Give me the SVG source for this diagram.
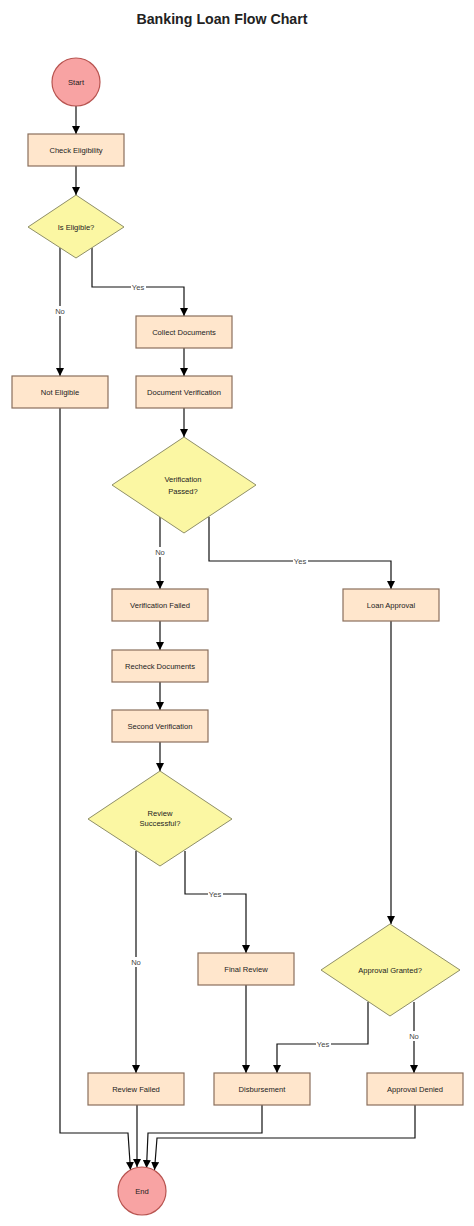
<svg xmlns="http://www.w3.org/2000/svg" width="474" height="1226" viewBox="0 0 474 1226">
<style>
.term{fill:#f8a3a3;stroke:#b85450;stroke-width:1.2}
.proc{fill:#ffe6cc;stroke:#8a6f5c;stroke-width:1.2}
.dec{fill:#fbf7a3;stroke:#8f8f68;stroke-width:1}
.t{font-family:"Liberation Sans",Arial,sans-serif;font-size:7.6px;fill:#222;text-anchor:middle;dominant-baseline:central}
.e{fill:none;stroke:#111;stroke-width:1.2;marker-end:url(#arr)}
.lbl{font-family:"Liberation Sans",Arial,sans-serif;font-size:7.6px;fill:#444;text-anchor:middle;dominant-baseline:central}
.lb{fill:#fff}
</style>
<defs>
<marker id="arr" viewBox="0 0 10 10" refX="10" refY="5" markerWidth="8" markerHeight="8" markerUnits="userSpaceOnUse" orient="auto"><path d="M0,0 L10,5 L0,10 z" fill="#000"/></marker>
</defs>
<rect width="474" height="1226" fill="#fff"/>
<text x="222" y="19" font-family="'Liberation Sans',Arial,sans-serif" font-size="14.2" font-weight="bold" fill="#222" text-anchor="middle" dominant-baseline="central">Banking Loan Flow Chart</text>
<g id="connectors">
<path class="e" d="M76 106 V134"/>
<path class="e" d="M76 166 V195"/>
<path class="e" d="M60 248 V376"/>
<path class="e" d="M92 248 V287 H184 V316"/>
<path class="e" d="M184 348 V376"/>
<path class="e" d="M184 408 V437"/>
<path class="e" d="M160 517 V589"/>
<path class="e" d="M209 517 V561 H391 V589"/>
<path class="e" d="M160 621 V650"/>
<path class="e" d="M160 682 V710"/>
<path class="e" d="M160 742 V771"/>
<path class="e" d="M136 851 V1073"/>
<path class="e" d="M185 851 V894 H246 V953"/>
<path class="e" d="M391 621 V924"/>
<path class="e" d="M246 985 V1073"/>
<path class="e" d="M368 1002 V1044 H277 V1073"/>
<path class="e" d="M414 1002 V1073"/>
<path class="e" d="M60 408 V1133 H128 L130.5 1170"/>
<path class="e" d="M137 1105 V1167"/>
<path class="e" d="M262 1105 V1133 H148 L146.5 1168"/>
<path class="e" d="M415 1105 V1138 H157 L154.5 1170"/>
<rect class="lb" x="53" y="306" width="14" height="10"/><text class="lbl" x="60" y="311">No</text>
<rect class="lb" x="131" y="282" width="15" height="10"/><text class="lbl" x="138" y="287">Yes</text>
<rect class="lb" x="153" y="547" width="14" height="10"/><text class="lbl" x="160" y="552">No</text>
<rect class="lb" x="293" y="556" width="15" height="10"/><text class="lbl" x="300" y="561">Yes</text>
<rect class="lb" x="129" y="957" width="14" height="10"/><text class="lbl" x="136" y="962">No</text>
<rect class="lb" x="208" y="889" width="15" height="10"/><text class="lbl" x="215" y="894">Yes</text>
<rect class="lb" x="316" y="1039" width="15" height="10"/><text class="lbl" x="323" y="1044">Yes</text>
<rect class="lb" x="407" y="1031" width="14" height="10"/><text class="lbl" x="414" y="1036">No</text>
</g>
<g id="start"><circle class="term" cx="76" cy="82" r="24"/><text class="t" x="76" y="82">Start</text></g>
<g id="check"><rect class="proc" x="28" y="134" width="96" height="32"/><text class="t" x="76" y="150">Check Eligibility</text></g>
<g id="eligible"><polygon class="dec" points="76,195 124,227 76,258 28,227"/><text class="t" x="76" y="227">Is Eligible?</text></g>
<g id="noteligible"><rect class="proc" x="12" y="376" width="96" height="32"/><text class="t" x="60" y="392">Not Eligible</text></g>
<g id="collect"><rect class="proc" x="136" y="316" width="96" height="32"/><text class="t" x="184" y="332">Collect Documents</text></g>
<g id="docver"><rect class="proc" x="136" y="376" width="96" height="32"/><text class="t" x="184" y="392">Document Verification</text></g>
<g id="verpassed"><polygon class="dec" points="184,437 256,485 184,533 112,485"/><text class="t" x="183" y="479">Verification</text><text class="t" x="183" y="491">Passed?</text></g>
<g id="verfailed"><rect class="proc" x="112" y="589" width="96" height="32"/><text class="t" x="160" y="605">Verification Failed</text></g>
<g id="loanapproval"><rect class="proc" x="343" y="589" width="96" height="32"/><text class="t" x="391" y="605">Loan Approval</text></g>
<g id="recheck"><rect class="proc" x="112" y="650" width="96" height="32"/><text class="t" x="160" y="666">Recheck Documents</text></g>
<g id="secondver"><rect class="proc" x="112" y="710" width="96" height="32"/><text class="t" x="160" y="726">Second Verification</text></g>
<g id="reviewsucc"><polygon class="dec" points="160,771 232,819 160,866 88,819"/><text class="t" x="160" y="813">Review</text><text class="t" x="160" y="823">Successful?</text></g>
<g id="finalreview"><rect class="proc" x="198" y="953" width="96" height="32"/><text class="t" x="246" y="969">Final Review</text></g>
<g id="approvalgranted"><polygon class="dec" points="390,924 460,970 390,1016 321,970"/><text class="t" x="390" y="970">Approval Granted?</text></g>
<g id="reviewfailed"><rect class="proc" x="88" y="1073" width="96" height="32"/><text class="t" x="136" y="1089">Review Failed</text></g>
<g id="disbursement"><rect class="proc" x="214" y="1073" width="96" height="32"/><text class="t" x="262" y="1089">Disbursement</text></g>
<g id="approvaldenied"><rect class="proc" x="367" y="1073" width="96" height="32"/><text class="t" x="415" y="1089">Approval Denied</text></g>
<g id="end"><circle class="term" cx="142" cy="1191" r="24"/><text class="t" x="142" y="1191">End</text></g>
</svg>
